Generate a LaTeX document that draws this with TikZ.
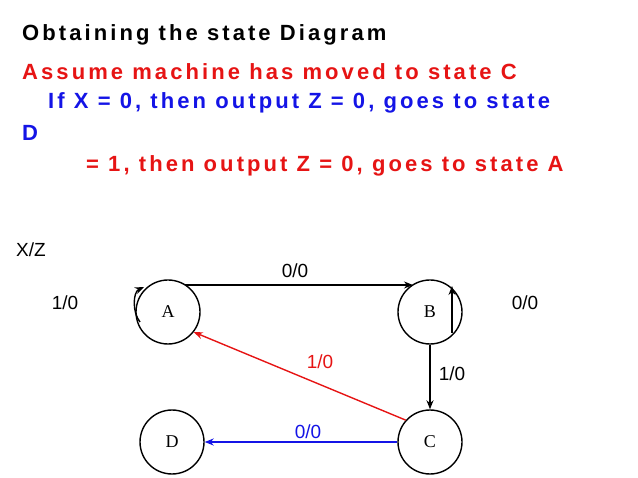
\documentclass[tikz,border=0pt]{standalone}
\usepackage{fontspec}
\setmainfont{Liberation Serif}
\setsansfont{Liberation Sans}
\newfontfamily\hd[LetterSpace=14]{Liberation Sans}
\newfontfamily\lbf{Liberation Sans}
\usetikzlibrary{arrows.meta}
\definecolor{myred}{RGB}{230,20,20}
\definecolor{myblue}{RGB}{20,20,230}
\begin{document}
\begin{tikzpicture}[x=1pt,y=-1pt,
  st/.style={circle,draw,line width=1.4pt,minimum size=64pt,inner sep=0pt,font=\fontsize{18}{18}\selectfont},
  hl/.style={anchor=west,inner sep=0pt,font=\hd\bfseries\fontsize{22}{23}\selectfont},
  lb/.style={inner sep=0pt,font=\lbf\fontsize{19}{19}\selectfont},
  ed/.style={line width=1.4pt,-{Stealth[length=9pt,width=7pt]}}]
\useasboundingbox (0,0) rectangle (638,478);
\node[hl] (t1) at (22,35) {Obtaining the state Diagram};
\node[hl,text=myred] (t2) at (22,72) {Assume machine has moved to state C};
\node[hl,text=myblue] (t3) at (48,103) {If X = 0, then output Z = 0, goes to state};
\node[hl,text=myblue] (t4) at (22,133) {D};
\node[hl,text=myred] (t5) at (86,166) {= 1, then output Z = 0, goes to state A};
\node[st] (A) at (168,312) {A};
\node[st] (B) at (430,312) {B};
\node[st] (C) at (430,442) {C};
\node[st] (D) at (172,442) {D};
\coordinate (a1) at (185,285); \coordinate (b1) at (413,285);
\draw[ed] (a1) -- (b1);
\draw[ed] (B) -- (C);
\draw[ed,myred] (C.138) -- (A.-38);
\draw[ed,myblue] (C) -- (D);
\coordinate (bl1) at (452,333); \coordinate (bl2) at (452,286);
\draw[ed] (bl1) -- (bl2);
\coordinate (al1) at (140,322); \coordinate (al2) at (144,287);
\draw[ed] (al1) .. controls (132,312) and (133,292) .. (al2);
\node[lb] (xz) at (31,250) {X/Z};
\node[lb] (l1) at (65,303) {1/0};
\node[lb] (l2) at (295,271) {0/0};
\node[lb] (l3) at (525,303) {0/0};
\node[lb,text=myred] (l4) at (320,362) {1/0};
\node[lb] (l5) at (452,374) {1/0};
\node[lb,text=myblue] (l6) at (308,432) {0/0};
\end{tikzpicture}
\end{document}
